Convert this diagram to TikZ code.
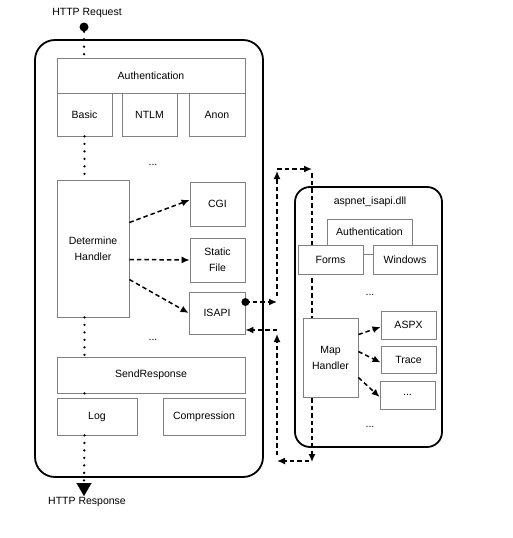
\documentclass[tikz,border=0pt]{standalone}
\usepackage{fontspec}
\setmainfont{Liberation Sans}
\usetikzlibrary{arrows.meta}

\begin{document}
\begin{tikzpicture}[x=1pt, y=-1pt,
    every node/.style={font=\fontsize{10.5}{16}\selectfont, align=center},
    blk/.style={draw=gray, fill=white, line width=0.8pt, inner sep=0pt},
    frame/.style={draw=black, line width=1.8pt, inner sep=0pt},
    dotline/.style={line width=2.6pt, line cap=round, dash pattern=on 0pt off 7.5pt},
    dashline/.style={line width=1.5pt, dash pattern=on 4.5pt off 3pt, -{Latex[length=8pt,width=7pt]}}]
        \useasboundingbox (0,0) rectangle (512,538);

        % Request flow (behind the boxes)
        \node[circle, fill=black, inner sep=0pt, minimum size=9pt] (req) at (84,27) {};
        \node (reqtxt) at (87,13) {HTTP Request};
        \coordinate (resp) at (84,496);
        \node (resptxt) at (87,502) {HTTP Response};
        \draw[dotline] (req) -- (84,57);

        % Containers
        \node[frame, rounded corners=20pt, minimum width=228pt, minimum height=437pt] (iis) at (149,258.5) {};
        \node[frame, rounded corners=15pt, minimum width=147pt, minimum height=260pt] (dll) at (368.5,317) {};

        % Loop through aspnet_isapi.dll
        \coordinate (tl) at (277,169);
        \coordinate (tr) at (312,169);
        \coordinate (br) at (312,462);
        \coordinate (bl) at (277,461);
        \draw[dashline] (tl) -- (tr);
        \draw[dashline] ([yshift=-4pt]tr) -- (br);
        \draw[dashline] (309,461) -- (bl);

        % IIS pipeline
        \node[blk, minimum width=188pt, minimum height=35pt] (auth) at (151,75.5) {Authentication};
        \node[blk, minimum width=55pt, minimum height=43pt] (basic) at (84.5,114.5) {Basic};
        \node[blk, minimum width=55pt, minimum height=43pt] (ntlm) at (149.5,114.5) {NTLM};
        \node[blk, minimum width=56pt, minimum height=43pt] (anon) at (217,114.5) {Anon};
        \node (dots1) at (153,165) {...};
        \node[blk, minimum width=72pt, minimum height=137pt] (dh) at (93,248.5) {Determine\\Handler};
        \node[blk, minimum width=55pt, minimum height=44pt] (cgi) at (217.5,204) {CGI};
        \node[blk, minimum width=55pt, minimum height=44pt] (static) at (217.5,260) {Static\\File};
        \node[blk, minimum width=56pt, minimum height=42pt] (isapi) at (217,313) {ISAPI};
        \node (dots2) at (153,340) {...};
        \node[blk, minimum width=188pt, minimum height=36pt] (send) at (151,375) {SendResponse};
        \node[blk, minimum width=80pt, minimum height=37pt] (log) at (97,416.5) {Log};
        \node[blk, minimum width=82pt, minimum height=37pt] (compr) at (204,416.5) {Compression};

        \draw[dotline] (basic.south) -- (basic.south |- dh.north);
        \draw[dotline] (dh.south -| basic.south) -- (send.north -| basic.south);
        \draw[dotline] (send.south -| basic.south) -- (log.north -| basic.south);
        \draw[dotline] (log.south -| basic.south) -- ([yshift=12pt]resp);
        \draw[-{Triangle[length=13pt,width=15pt]}, line width=0.1pt] ([yshift=13pt]resp) -- (resp);

        \draw[dashline] ([yshift=26pt]dh.east) -- ([yshift=4pt]cgi.west);
        \draw[dashline] ([yshift=-11pt]dh.east) -- (static.west);
        \draw[dashline] ([yshift=-31pt]dh.east) -- (isapi.west);

        % ISAPI out and back
        \coordinate (iout) at ([yshift=11pt]isapi.east);
        \coordinate (iin) at ([yshift=-17pt]isapi.east);
        \fill (iout) circle (4pt);
        \draw[dashline] (iout) -- (iout -| tl);
        \draw[dashline] ([yshift=6pt]iout -| tl) -- ([yshift=-2pt]tl);
        \draw[dashline] ([yshift=6pt]bl) -- ([yshift=-4pt]iin -| bl);
        \draw[dashline] (iin -| bl) -- (iin);

        % aspnet_isapi.dll
        \node (dlltxt) at (370,202) {aspnet\_isapi.dll};
        \node[blk, minimum width=85pt, minimum height=35pt] (auth2) at (369.5,236.5) {};
        \node (auth2txt) at (369.5,232) {Authentication};
        \node[blk, minimum width=65pt, minimum height=29pt] (forms) at (330.5,259.5) {Forms};
        \node[blk, minimum width=64pt, minimum height=29pt] (windows) at (405,259.5) {Windows};
        \node (dots3) at (370,295) {...};
        \node[blk, minimum width=55pt, minimum height=79pt] (map) at (330.5,357.5) {Map\\Handler};
        \node[blk, minimum width=55pt, minimum height=28pt] (aspx) at (408.5,325) {ASPX};
        \node[blk, minimum width=55pt, minimum height=27pt] (trace) at (408.5,359.5) {Trace};
        \node[blk, minimum width=55pt, minimum height=28pt] (more) at (407.5,395) {...};
        \node (dots4) at (370,427) {...};

        \draw[dashline] ([yshift=23pt]map.east) -- ([yshift=-2pt]aspx.west);
        \draw[dashline] ([yshift=6pt]map.east) -- ([yshift=-3pt]trace.west);
        \draw[dashline] ([yshift=-20pt]map.east) -- ([yshift=-2pt]more.west);

    \end{tikzpicture}
\end{document}
